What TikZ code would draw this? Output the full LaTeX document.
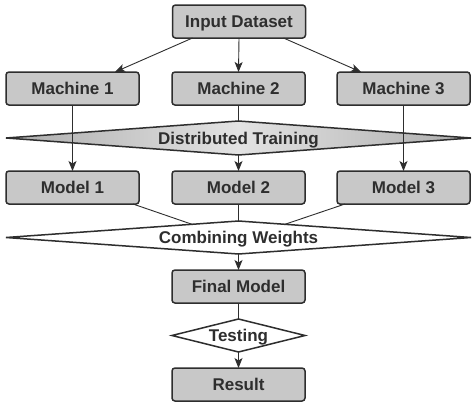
\documentclass[tikz,border=0pt]{standalone}
\usepackage{fontspec}
\setmainfont{Liberation Sans}
\usetikzlibrary{shapes.geometric,arrows.meta,calc}
\definecolor{boxfill}{HTML}{C8C8C8}
\definecolor{ink}{HTML}{2E2E2E}
\begin{document}
\begin{tikzpicture}[x=1pt,y=-1pt,
  lbl/.style={font=\fontsize{17}{20}\selectfont\bfseries, text=ink, text height=12.2pt, text depth=0pt},
  box/.style={lbl, draw=ink, line width=1.5pt, fill=boxfill, rounded corners=3pt,
    minimum width=133pt, minimum height=33pt, inner sep=0pt, outer sep=0pt},
  dia/.style={lbl, shape=diamond, draw=ink, line width=1.5pt, inner sep=0pt, outer sep=0pt},
  conn/.style={draw=ink, line width=0.9pt},
  arr/.style={conn, -{Stealth[length=10pt,width=8pt,inset=2.5pt]}}]
\useasboundingbox (0,0) rectangle (474,407);
\fill[white] (0,0) rectangle (474,407);

\node[box] (in) at (239,21.5) {Input Dataset};
\node[box] (m1) at (72.5,88.5) {Machine 1};
\node[box] (m2) at (238.5,88.5) {Machine 2};
\node[box] (m3) at (403.5,88.5) {Machine 3};

\node[box] (o1) at (72.5,187.5) {Model 1};
\node[box] (o2) at (238.5,187.5) {Model 2};
\node[box] (o3) at (403.5,187.5) {Model 3};

\node[box] (fm) at (238.5,286.5) {Final Model};
\node[box] (res) at (238.5,384.5) {Result};

% input arrows
\coordinate (a1) at ([xshift=20pt]in.south west);
\coordinate (a3) at ([xshift=-22pt]in.south east);
\coordinate (b1) at ([xshift=-24pt]m1.north east);
\coordinate (b3) at ([xshift=24pt]m3.north west);
\draw[arr] (a1) -- (b1);
\draw[arr] (in.south) -- (m2.north);
\draw[arr] (a3) -- (b3);

% distributed training
\node[dia, aspect=13.7, minimum width=465pt, minimum height=34pt,
  left color=gray!65, right color=gray!65, middle color=gray!22] (dt) at (238.5,138) {Distributed Training};
\draw[arr] (m1.south) -- (o1.north);
\draw[arr] (m3.south) -- (o3.north);
\draw[conn] (m2.south) -- (dt.north);
\draw[arr] (dt.south) -- (o2.north);

% combining weights
\node[dia, aspect=14, minimum width=465pt, minimum height=33pt, fill=white] (cw) at (238.5,237.5) {Combining Weights};
\coordinate (c1) at ($(cw.west)!0.8!(cw.north)$);
\coordinate (c3) at ($(cw.east)!0.8!(cw.north)$);
\coordinate (d1) at ([xshift=-6pt]o1.south east);
\coordinate (d3) at ([xshift=8pt]o3.south west);
\draw[conn] (d1) -- (c1);
\draw[conn] (o2.south) -- (cw.north);
\draw[conn] (d3) -- (c3);
\draw[arr] (cw.south) -- (fm.north);

% testing
\node[dia, aspect=4, minimum width=133pt, minimum height=33pt, fill=white] (te) at (238.5,335.5) {Testing};
\draw[conn] (fm.south) -- (te.north);
\draw[arr] (te.south) -- (res.north);
\end{tikzpicture}
\end{document}
